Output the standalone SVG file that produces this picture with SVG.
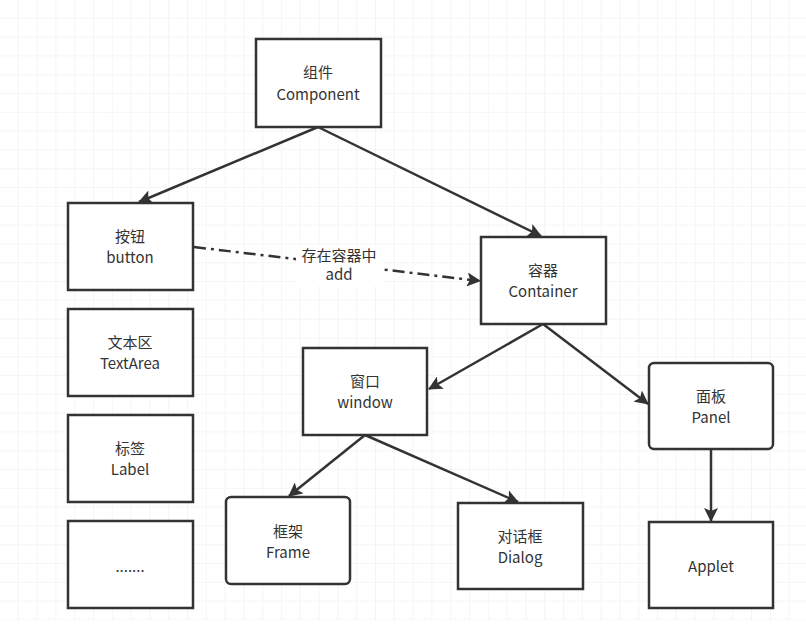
<svg xmlns="http://www.w3.org/2000/svg" width="806" height="627" viewBox="0 0 806 627">
<style>
.b{fill:#fff;stroke:#333;stroke-width:2.5}
.t{font-family:"Microsoft YaHei","Noto Sans CJK SC",sans-serif;font-size:15px;fill:#333;text-anchor:middle}
.c{stroke:#333;stroke-width:2.5;fill:none}
</style>
<defs>
<pattern id="g" width="18.8" height="18.8" patternUnits="userSpaceOnUse"><path d="M18.8 0V18.8H0" fill="none" stroke="#ececec" stroke-width="1"/></pattern>
<marker id="a" markerWidth="10" markerHeight="10" refX="9" refY="5" orient="auto" markerUnits="userSpaceOnUse"><path d="M0 0L10 5L0 10L2 5Z" fill="#333"/></marker>
<marker id="a2" markerWidth="14" markerHeight="14" refX="13" refY="7" orient="auto" markerUnits="userSpaceOnUse"><path d="M0 0L14 7L0 14L3 7Z" fill="#333"/></marker>
</defs>
<rect width="806" height="627" fill="#fff"/>
<rect width="806" height="620" fill="url(#g)"/>
<g id="connectors">
<path class="c" d="M318 127L139 202" marker-end="url(#a2)"/>
<path class="c" d="M318 127L541 236" marker-end="url(#a2)"/>
<path class="c" d="M543 324L429 389" marker-end="url(#a2)"/>
<path class="c" d="M543 324L648 404" marker-end="url(#a2)"/>
<path class="c" d="M365 435L289 496" marker-end="url(#a2)"/>
<path class="c" d="M365 435L518 502" marker-end="url(#a2)"/>
<path class="c" d="M711 449L711 521" marker-end="url(#a2)"/>
<path class="c" d="M194 247L480 281" stroke-dasharray="12 5 3 5" marker-end="url(#a2)"/>
<rect x="296" y="246" width="86" height="40" fill="#fff"/>
<text class="t" x="339" y="261">存在容器中</text>
<text class="t" x="339" y="280">add</text>
</g>
<g id="component"><rect class="b" x="256" y="39" width="125" height="88"/><text class="t" x="318" y="78">组件</text><text class="t" x="318" y="100">Component</text></g>
<g id="button"><rect class="b" x="68" y="203" width="125" height="87"/><text class="t" x="130" y="242">按钮</text><text class="t" x="130" y="263">button</text></g>
<g id="textarea"><rect class="b" x="68" y="309" width="125" height="87"/><text class="t" x="130" y="348">文本区</text><text class="t" x="130" y="369">TextArea</text></g>
<g id="label"><rect class="b" x="68" y="415" width="125" height="87"/><text class="t" x="130" y="454">标签</text><text class="t" x="130" y="475">Label</text></g>
<g id="more"><rect class="b" x="68" y="521" width="125" height="87"/><text class="t" x="130" y="572">.......</text></g>
<g id="container"><rect class="b" x="481" y="237" width="125" height="87"/><text class="t" x="543" y="276">容器</text><text class="t" x="543" y="297">Container</text></g>
<g id="window"><rect class="b" x="303" y="348" width="124" height="87"/><text class="t" x="365" y="387">窗口</text><text class="t" x="365" y="408">window</text></g>
<g id="panel"><rect class="b" x="649" y="363" width="124" height="86" rx="5"/><text class="t" x="711" y="402">面板</text><text class="t" x="711" y="423">Panel</text></g>
<g id="frame"><rect class="b" x="226" y="497" width="124" height="87" rx="5"/><text class="t" x="288" y="537">框架</text><text class="t" x="288" y="558">Frame</text></g>
<g id="dialog"><rect class="b" x="458" y="503" width="125" height="86"/><text class="t" x="520" y="542">对话框</text><text class="t" x="520" y="563">Dialog</text></g>
<g id="applet"><rect class="b" x="649" y="522" width="124" height="86"/><text class="t" x="711" y="572">Applet</text></g>
</svg>
